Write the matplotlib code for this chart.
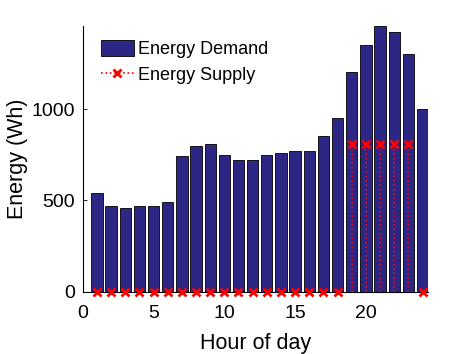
import matplotlib
matplotlib.use("Agg")
import matplotlib.pyplot as plt
from matplotlib.lines import Line2D
from matplotlib.patches import Patch
from matplotlib.legend_handler import HandlerLine2D

plt.rcParams['font.family'] = ['Liberation Sans', 'DejaVu Sans']

hours = list(range(1, 25))
demand = [542, 471, 460, 471, 471, 493, 743, 801, 812, 750, 721, 721,
          750, 761, 772, 772, 854, 953, 1203, 1354, 1456, 1423, 1305, 1002]
supply = [0]*18 + [808, 808, 808, 808, 808] + [0]
xticks = [0, 5, 10, 15, 20]
yticks = [0, 500, 1000]

bar_color = '#2c2785'


class RightMarkerHandler(HandlerLine2D):
    def get_xdata(self, legend, xdescent, ydescent, width, height, fontsize):
        xdata, _ = super().get_xdata(legend, xdescent, ydescent, width,
                                     height, fontsize)
        return xdata, [xdata[-1]]


fig = plt.figure(figsize=(4.74, 3.54), dpi=100)
ax = fig.add_axes([0.1745, 0.176, 0.729, 0.7506])

ax.bar(hours, demand, width=0.8, color=bar_color, edgecolor='black',
       linewidth=0.6, zorder=2)
ml, sl, bl = ax.stem(hours, supply, linefmt='r:', markerfmt='rx', basefmt=' ')
plt.setp(ml, markersize=6, markeredgewidth=2, zorder=4, clip_on=False)
plt.setp(sl, linewidth=1.2, zorder=3)

ax.set_xlim(0, 24.4)
ax.set_ylim(0, 1456)
ax.set_xticks(xticks)
ax.set_yticks(yticks)
ax.tick_params(labelsize=14, direction='in', length=3, width=0.6)
ax.tick_params(axis='x', pad=9.5)
ax.tick_params(axis='y', pad=5.5)
ax.spines['top'].set_visible(False)
ax.spines['right'].set_visible(False)
ax.spines['left'].set_linewidth(0.8)
ax.spines['bottom'].set_linewidth(0.8)
ax.set_xlabel('Hour of day', fontsize=15.5, labelpad=8)
ax.set_ylabel('Energy (Wh)', fontsize=15.5, labelpad=2.5)

supply_handle = Line2D([0], [0], color='red', linestyle=':', linewidth=1.2,
                       marker='x', markersize=6, markeredgewidth=2)
handles = [Patch(facecolor=bar_color, edgecolor='black', linewidth=0.6),
           supply_handle]
ax.legend(handles, ['Energy Demand', 'Energy Supply'], loc='upper left',
          frameon=False, fontsize=13, bbox_to_anchor=(0.017, 0.995),
          handlelength=1.8, handleheight=1.0, handletextpad=0.25,
          borderaxespad=0.3, labelspacing=0.4,
          handler_map={supply_handle: RightMarkerHandler()})

fig.savefig('out.png', dpi=100)
